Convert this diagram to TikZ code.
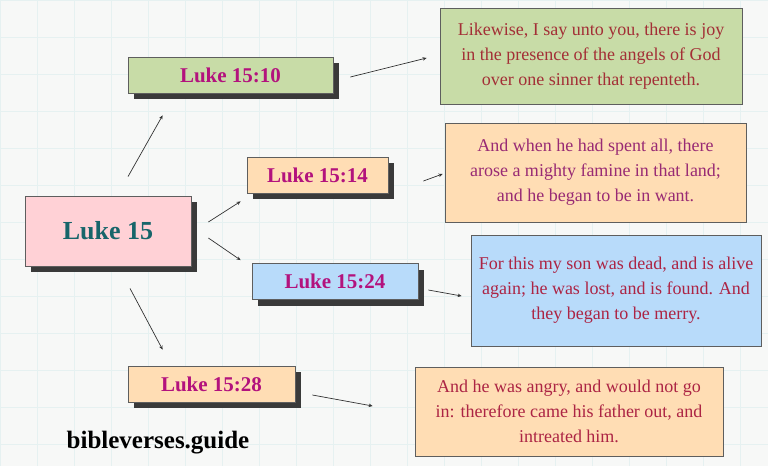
\documentclass[tikz,border=0pt]{standalone}
\usepackage{fontspec}
\setmainfont{Liberation Serif}[BoldFont={Liberation Serif Bold}]
\usetikzlibrary{arrows.meta,shadows}
\definecolor{paperBg}{HTML}{F7F8F7}
\definecolor{gridLine}{HTML}{E6F1F1}
\definecolor{rootFill}{HTML}{FFD1D6}
\definecolor{rootText}{HTML}{17656A}
\definecolor{greenFill}{HTML}{C8DCA7}
\definecolor{peachFill}{HTML}{FFDDB4}
\definecolor{blueFill}{HTML}{B8DBFA}
\definecolor{refText}{HTML}{B3127D}
\definecolor{boxStroke}{HTML}{5E5E5E}
\definecolor{shadowGray}{HTML}{3A3A3A}
\definecolor{verseRed}{HTML}{A32F36}
\definecolor{versePurple}{HTML}{982A74}
\definecolor{verseCrimson}{HTML}{AC2444}
\definecolor{linkGray}{HTML}{333333}

\begin{document}
\begin{tikzpicture}[
  x=1pt, y=-1pt,
  root/.style  ={draw=boxStroke, fill=rootFill, line width=0.8pt, minimum width=166pt, minimum height=70pt,
                 font=\fontsize{26}{30}\selectfont\bfseries, text=rootText,
                 drop shadow={shadow xshift=6pt, shadow yshift=-6pt, fill=shadowGray, opacity=1}},
  ref/.style   ={draw=boxStroke, line width=0.8pt, minimum height=36pt,
                 font=\fontsize{21}{24}\selectfont\bfseries, text=refText,
                 drop shadow={shadow xshift=6pt, shadow yshift=-6pt, fill=shadowGray, opacity=1}},
  verse/.style ={draw=boxStroke, line width=0.8pt, align=center, inner sep=4pt,
                 font=\fontsize{18}{25}\selectfont},
  link/.style  ={-{Stealth[length=4pt,width=3.5pt]}, line width=0.7pt, linkGray},
]
\useasboundingbox (0,0) rectangle (768,466);

% ==================== Paper ====================
\fill[paperBg] (0,0) rectangle (768,466);
\draw[gridLine, line width=0.5pt, step=37pt] (0,0) grid (768,466);

% ==================== Centre ====================
\node[root] (root) at (108,231) {Luke 15};

% ==================== References ====================
\node[ref, fill=greenFill, minimum width=205pt] (l10) at (230.5,75)  {Luke 15:10};
\node[ref, fill=peachFill, minimum width=141pt] (l14) at (317.5,175) {Luke 15:14};
\node[ref, fill=blueFill,  minimum width=166pt] (l24) at (335,281.5) {Luke 15:24};
\node[ref, fill=peachFill, minimum width=167pt] (l28) at (211.5,384) {Luke 15:28};

% ==================== Verses ====================
\node[verse, fill=greenFill, minimum width=302pt, minimum height=96pt, text=verseRed] (v10) at (591,56) {%
Likewise, I say unto you, there is joy\\
in the presence of the angels of God\\
over one sinner that repenteth.};
\node[verse, fill=peachFill, minimum width=301pt, minimum height=99pt, text=versePurple] (v14) at (595.5,172.5) {%
And when he had spent all, there\\
arose a mighty famine in that land;\\
and he began to be in want.};
\node[verse, fill=blueFill, minimum width=290pt, minimum height=111pt, text=verseCrimson] (v24) at (616,290.5) {%
For this my son was dead, and is alive\\
again; he was lost, and is found. And\\
they began to be merry.};
\node[verse, fill=peachFill, minimum width=308pt, minimum height=89pt, text=verseCrimson] (v28) at (569,411.5) {%
And he was angry, and would not go\\
in: therefore came his father out, and\\
intreated him.};

% ==================== Watermark ====================
\node[font=\fontsize{25}{28}\selectfont\bfseries, text=black] (mark) at (158,443) {bibleverses.guide};

% ==================== Arrows ====================
% centre -> references
\draw[link] ([xshift=20pt,yshift=19pt]root.north) -- ([xshift=35pt,yshift=-22pt]l10.south west);
\draw[link] ([xshift=17pt,yshift=9pt]root.east)   -- ([xshift=-6pt,yshift=-8pt]l14.south west);
\draw[link] ([xshift=17pt,yshift=-7pt]root.east)  -- ([xshift=-11pt,yshift=3pt]l24.north west);
\draw[link] ([xshift=22pt,yshift=-22pt]root.south) -- ([xshift=35pt,yshift=16pt]l28.north west);

% references -> verses
\draw[link] ([xshift=17pt,yshift=-2pt]l10.east)   -- ([xshift=-13pt,yshift=-2pt]v10.west);
\draw[link] ([xshift=35pt,yshift=-6pt]l14.east)   -- ([xshift=-2pt,yshift=-1.5pt]v14.west);
\draw[link] ([xshift=10pt,yshift=-8.5pt]l24.east) -- ([xshift=-9pt,yshift=-5.5pt]v24.west);
\draw[link] ([xshift=17pt,yshift=-11pt]l28.east)  -- ([xshift=-42pt,yshift=5.5pt]v28.west);

\end{tikzpicture}
\end{document}
